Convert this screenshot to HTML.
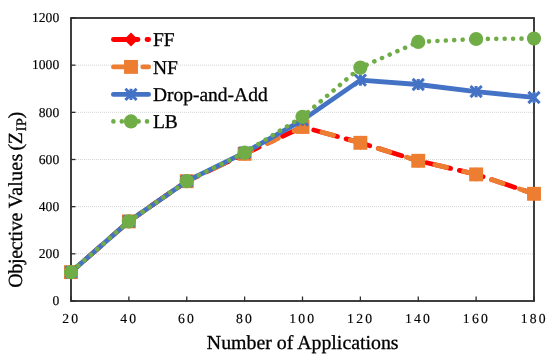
<!DOCTYPE html>
<html><head><meta charset="utf-8"><title>Chart</title>
<style>html,body{margin:0;padding:0;background:#fff}body{width:550px;height:358px;overflow:hidden}</style>
</head><body>
<svg width="550" height="358" viewBox="0 0 550 358" style="display:block" text-rendering="geometricPrecision">
<rect width="550" height="358" fill="#fff"/>
<line x1="76.0" y1="253.83" x2="533.0" y2="253.83" stroke="#d4d4d4" stroke-width="1" stroke-dasharray="1 1"/>
<line x1="76.0" y1="206.67" x2="533.0" y2="206.67" stroke="#d4d4d4" stroke-width="1" stroke-dasharray="1 1"/>
<line x1="76.0" y1="159.50" x2="533.0" y2="159.50" stroke="#d4d4d4" stroke-width="1" stroke-dasharray="1 1"/>
<line x1="76.0" y1="112.33" x2="533.0" y2="112.33" stroke="#d4d4d4" stroke-width="1" stroke-dasharray="1 1"/>
<line x1="76.0" y1="65.17" x2="533.0" y2="65.17" stroke="#d4d4d4" stroke-width="1" stroke-dasharray="1 1"/>
<rect x="71.0" y="18.0" width="463.0" height="283.0" fill="none" stroke="#2b2b2b" stroke-width="1.8"/>
<line x1="71.0" y1="301.00" x2="75.5" y2="301.00" stroke="#2b2b2b" stroke-width="1.3"/>
<line x1="71.0" y1="253.83" x2="75.5" y2="253.83" stroke="#2b2b2b" stroke-width="1.3"/>
<line x1="71.0" y1="206.67" x2="75.5" y2="206.67" stroke="#2b2b2b" stroke-width="1.3"/>
<line x1="71.0" y1="159.50" x2="75.5" y2="159.50" stroke="#2b2b2b" stroke-width="1.3"/>
<line x1="71.0" y1="112.33" x2="75.5" y2="112.33" stroke="#2b2b2b" stroke-width="1.3"/>
<line x1="71.0" y1="65.17" x2="75.5" y2="65.17" stroke="#2b2b2b" stroke-width="1.3"/>
<line x1="71.0" y1="18.00" x2="75.5" y2="18.00" stroke="#2b2b2b" stroke-width="1.3"/>
<line x1="71.00" y1="301.0" x2="71.00" y2="296.5" stroke="#2b2b2b" stroke-width="1.3"/>
<line x1="128.88" y1="301.0" x2="128.88" y2="296.5" stroke="#2b2b2b" stroke-width="1.3"/>
<line x1="186.75" y1="301.0" x2="186.75" y2="296.5" stroke="#2b2b2b" stroke-width="1.3"/>
<line x1="244.62" y1="301.0" x2="244.62" y2="296.5" stroke="#2b2b2b" stroke-width="1.3"/>
<line x1="302.50" y1="301.0" x2="302.50" y2="296.5" stroke="#2b2b2b" stroke-width="1.3"/>
<line x1="360.38" y1="301.0" x2="360.38" y2="296.5" stroke="#2b2b2b" stroke-width="1.3"/>
<line x1="418.25" y1="301.0" x2="418.25" y2="296.5" stroke="#2b2b2b" stroke-width="1.3"/>
<line x1="476.12" y1="301.0" x2="476.12" y2="296.5" stroke="#2b2b2b" stroke-width="1.3"/>
<line x1="534.00" y1="301.0" x2="534.00" y2="296.5" stroke="#2b2b2b" stroke-width="1.3"/>
<path d="M71.00,272.11 L128.88,221.38 L186.75,181.20 L244.62,153.84 L302.50,126.96 L360.38,142.80 L418.25,160.80 L476.12,174.40 L534.00,193.79" fill="none" stroke="#FF0000" stroke-width="4.8" stroke-linecap="round" stroke-linejoin="round" stroke-dasharray="24.60 9.00 24.60 9.00 24.60 9.00 24.60 9.00 7.80 9.00" stroke-dashoffset="49.15"/>
<path d="M64.00,272.11 L71.00,265.11 L78.00,272.11 L71.00,279.11Z" fill="#FF0000"/>
<path d="M121.88,221.38 L128.88,214.38 L135.88,221.38 L128.88,228.38Z" fill="#FF0000"/>
<path d="M179.75,181.20 L186.75,174.20 L193.75,181.20 L186.75,188.20Z" fill="#FF0000"/>
<path d="M237.62,153.84 L244.62,146.84 L251.62,153.84 L244.62,160.84Z" fill="#FF0000"/>
<path d="M295.50,126.96 L302.50,119.96 L309.50,126.96 L302.50,133.96Z" fill="#FF0000"/>
<path d="M353.38,142.80 L360.38,135.80 L367.38,142.80 L360.38,149.80Z" fill="#FF0000"/>
<path d="M411.25,160.80 L418.25,153.80 L425.25,160.80 L418.25,167.80Z" fill="#FF0000"/>
<path d="M469.12,174.40 L476.12,167.40 L483.12,174.40 L476.12,181.40Z" fill="#FF0000"/>
<path d="M527.00,193.79 L534.00,186.79 L541.00,193.79 L534.00,200.79Z" fill="#FF0000"/>
<path d="M71.00,272.11 L128.88,221.38 L186.75,181.20 L244.62,153.84 L302.50,126.96 L360.38,142.80 L418.25,160.80 L476.12,174.40 L534.00,193.79" fill="none" stroke="#ED7D31" stroke-width="4.8" stroke-linecap="round" stroke-linejoin="round" stroke-dasharray="12.00 17.40" stroke-dashoffset="28.05"/>
<rect x="64.05" y="265.16" width="13.9" height="13.9" fill="#ED7D31"/>
<rect x="121.92" y="214.43" width="13.9" height="13.9" fill="#ED7D31"/>
<rect x="179.80" y="174.25" width="13.9" height="13.9" fill="#ED7D31"/>
<rect x="237.68" y="146.89" width="13.9" height="13.9" fill="#ED7D31"/>
<rect x="295.55" y="120.01" width="13.9" height="13.9" fill="#ED7D31"/>
<rect x="353.43" y="135.85" width="13.9" height="13.9" fill="#ED7D31"/>
<rect x="411.30" y="153.85" width="13.9" height="13.9" fill="#ED7D31"/>
<rect x="469.18" y="167.45" width="13.9" height="13.9" fill="#ED7D31"/>
<rect x="527.05" y="186.84" width="13.9" height="13.9" fill="#ED7D31"/>
<path d="M71.00,272.11 L128.88,221.38 L186.75,181.20 L244.62,152.66 L302.50,120.12 L360.38,80.14 L418.25,84.50 L476.12,91.58 L534.00,97.48" fill="none" stroke="#4472C4" stroke-width="4.8" stroke-linecap="round" stroke-linejoin="round"/>
<path d="M65.40,266.51 L76.60,277.71 M65.40,277.71 L76.60,266.51 M71.00,266.51 L71.00,277.71" stroke="#4472C4" stroke-width="3.0" stroke-linecap="butt" fill="none"/>
<path d="M123.28,215.78 L134.47,226.98 M123.28,226.98 L134.47,215.78 M128.88,215.78 L128.88,226.98" stroke="#4472C4" stroke-width="3.0" stroke-linecap="butt" fill="none"/>
<path d="M181.15,175.60 L192.35,186.80 M181.15,186.80 L192.35,175.60 M186.75,175.60 L186.75,186.80" stroke="#4472C4" stroke-width="3.0" stroke-linecap="butt" fill="none"/>
<path d="M239.03,147.06 L250.22,158.26 M239.03,158.26 L250.22,147.06 M244.62,147.06 L244.62,158.26" stroke="#4472C4" stroke-width="3.0" stroke-linecap="butt" fill="none"/>
<path d="M296.90,114.52 L308.10,125.72 M296.90,125.72 L308.10,114.52 M302.50,114.52 L302.50,125.72" stroke="#4472C4" stroke-width="3.0" stroke-linecap="butt" fill="none"/>
<path d="M354.77,74.54 L365.98,85.74 M354.77,85.74 L365.98,74.54 M360.38,74.54 L360.38,85.74" stroke="#4472C4" stroke-width="3.0" stroke-linecap="butt" fill="none"/>
<path d="M412.65,78.91 L423.85,90.10 M412.65,90.10 L423.85,78.91 M418.25,78.91 L418.25,90.10" stroke="#4472C4" stroke-width="3.0" stroke-linecap="butt" fill="none"/>
<path d="M470.52,85.98 L481.73,97.18 M470.52,97.18 L481.73,85.98 M476.12,85.98 L476.12,97.18" stroke="#4472C4" stroke-width="3.0" stroke-linecap="butt" fill="none"/>
<path d="M528.40,91.88 L539.60,103.08 M528.40,103.08 L539.60,91.88 M534.00,91.88 L534.00,103.08" stroke="#4472C4" stroke-width="3.0" stroke-linecap="butt" fill="none"/>
<path d="M71.00,272.11 L128.88,221.38 L186.75,181.20 L244.62,152.66 L302.50,116.81 L360.38,67.62 L418.25,41.94 L476.12,38.99 L534.00,38.52" fill="none" stroke="#70AD47" stroke-width="4.6" stroke-linecap="round" stroke-linejoin="round" stroke-dasharray="0.01 8.40" stroke-dashoffset="-1.2"/>
<circle cx="71.00" cy="272.11" r="7.1" fill="#70AD47"/>
<circle cx="128.88" cy="221.38" r="7.1" fill="#70AD47"/>
<circle cx="186.75" cy="181.20" r="7.1" fill="#70AD47"/>
<circle cx="244.62" cy="152.66" r="7.1" fill="#70AD47"/>
<circle cx="302.50" cy="116.81" r="7.1" fill="#70AD47"/>
<circle cx="360.38" cy="67.62" r="7.1" fill="#70AD47"/>
<circle cx="418.25" cy="41.94" r="7.1" fill="#70AD47"/>
<circle cx="476.12" cy="38.99" r="7.1" fill="#70AD47"/>
<circle cx="534.00" cy="38.52" r="7.1" fill="#70AD47"/>
<text x="59.2" y="305.20" text-anchor="end" font-size="13.6" font-family="'Liberation Serif', 'Times New Roman', serif" stroke="#000" stroke-width="0.15" fill="#000">0</text>
<text x="59.2" y="258.03" text-anchor="end" font-size="13.6" font-family="'Liberation Serif', 'Times New Roman', serif" stroke="#000" stroke-width="0.15" fill="#000">200</text>
<text x="59.2" y="210.87" text-anchor="end" font-size="13.6" font-family="'Liberation Serif', 'Times New Roman', serif" stroke="#000" stroke-width="0.15" fill="#000">400</text>
<text x="59.2" y="163.70" text-anchor="end" font-size="13.6" font-family="'Liberation Serif', 'Times New Roman', serif" stroke="#000" stroke-width="0.15" fill="#000">600</text>
<text x="59.2" y="116.53" text-anchor="end" font-size="13.6" font-family="'Liberation Serif', 'Times New Roman', serif" stroke="#000" stroke-width="0.15" fill="#000">800</text>
<text x="59.2" y="69.37" text-anchor="end" font-size="13.6" font-family="'Liberation Serif', 'Times New Roman', serif" stroke="#000" stroke-width="0.15" fill="#000">1000</text>
<text x="59.2" y="22.20" text-anchor="end" font-size="13.6" font-family="'Liberation Serif', 'Times New Roman', serif" stroke="#000" stroke-width="0.15" fill="#000">1200</text>
<text x="71.30" y="323.4" text-anchor="middle" font-size="13.7" letter-spacing="2.2" font-family="'Liberation Serif', 'Times New Roman', serif" stroke="#000" stroke-width="0.15" fill="#000">20</text>
<text x="129.18" y="323.4" text-anchor="middle" font-size="13.7" letter-spacing="2.2" font-family="'Liberation Serif', 'Times New Roman', serif" stroke="#000" stroke-width="0.15" fill="#000">40</text>
<text x="187.05" y="323.4" text-anchor="middle" font-size="13.7" letter-spacing="2.2" font-family="'Liberation Serif', 'Times New Roman', serif" stroke="#000" stroke-width="0.15" fill="#000">60</text>
<text x="244.93" y="323.4" text-anchor="middle" font-size="13.7" letter-spacing="2.2" font-family="'Liberation Serif', 'Times New Roman', serif" stroke="#000" stroke-width="0.15" fill="#000">80</text>
<text x="302.80" y="323.4" text-anchor="middle" font-size="13.7" letter-spacing="2.2" font-family="'Liberation Serif', 'Times New Roman', serif" stroke="#000" stroke-width="0.15" fill="#000">100</text>
<text x="360.68" y="323.4" text-anchor="middle" font-size="13.7" letter-spacing="2.2" font-family="'Liberation Serif', 'Times New Roman', serif" stroke="#000" stroke-width="0.15" fill="#000">120</text>
<text x="418.55" y="323.4" text-anchor="middle" font-size="13.7" letter-spacing="2.2" font-family="'Liberation Serif', 'Times New Roman', serif" stroke="#000" stroke-width="0.15" fill="#000">140</text>
<text x="476.43" y="323.4" text-anchor="middle" font-size="13.7" letter-spacing="2.2" font-family="'Liberation Serif', 'Times New Roman', serif" stroke="#000" stroke-width="0.15" fill="#000">160</text>
<text x="534.30" y="323.4" text-anchor="middle" font-size="13.7" letter-spacing="2.2" font-family="'Liberation Serif', 'Times New Roman', serif" stroke="#000" stroke-width="0.15" fill="#000">180</text>
<text x="302.7" y="348.6" text-anchor="middle" font-size="19.85" font-family="'Liberation Serif', 'Times New Roman', serif" stroke="#000" stroke-width="0.3" fill="#000">Number of Applications</text>
<g transform="translate(22.3,0) rotate(-90)" font-family="'Liberation Serif', 'Times New Roman', serif" stroke="#000" stroke-width="0.3" fill="#000">
<text x="-287.80" y="0" font-size="20" textLength="75.3" lengthAdjust="spacing" >Objective</text>
<text x="-208.20" y="0" font-size="20" textLength="54.4" lengthAdjust="spacing" >Values</text>
<text x="-150.40" y="0" font-size="20" >(</text>
<text x="-144.20" y="0" font-size="20" >Z</text>
<text x="-131.20" y="4" font-size="14.5" >IP</text>
<text x="-118.60" y="0" font-size="20" >)</text>
</g>
<line x1="113.4" y1="39.5" x2="148.6" y2="39.5" stroke="#FF0000" stroke-width="4.8" stroke-linecap="round" stroke-dasharray="24.60 9.00 24.60 9.00 24.60 9.00 24.60 9.00 7.80 9.00"/>
<path d="M124.00,39.50 L131.00,32.50 L138.00,39.50 L131.00,46.50Z" fill="#FF0000"/>
<line x1="113.4" y1="66.9" x2="148.6" y2="66.9" stroke="#ED7D31" stroke-width="4.8" stroke-linecap="round" stroke-dasharray="12.00 17.40"/>
<rect x="124.05" y="59.95" width="13.9" height="13.9" fill="#ED7D31"/>
<line x1="113.4" y1="94.4" x2="148.6" y2="94.4" stroke="#4472C4" stroke-width="4.8" stroke-linecap="round"/>
<path d="M125.40,88.80 L136.60,100.00 M125.40,100.00 L136.60,88.80 M131.00,88.80 L131.00,100.00" stroke="#4472C4" stroke-width="3.0" stroke-linecap="butt" fill="none"/>
<line x1="113.4" y1="121.4" x2="148.6" y2="121.4" stroke="#70AD47" stroke-width="4.6" stroke-linecap="round" stroke-dasharray="0.01 8.40"/>
<circle cx="131.0" cy="121.4" r="7.1" fill="#70AD47"/>
<text x="152.9" y="46.40" font-size="19.5" font-family="'Liberation Serif', 'Times New Roman', serif" stroke="#000" stroke-width="0.3" fill="#000">FF</text>
<text x="152.9" y="73.80" font-size="19.5" font-family="'Liberation Serif', 'Times New Roman', serif" stroke="#000" stroke-width="0.3" fill="#000">NF</text>
<text x="152.9" y="101.30" font-size="19.5" font-family="'Liberation Serif', 'Times New Roman', serif" stroke="#000" stroke-width="0.3" fill="#000">Drop-and-Add</text>
<text x="152.9" y="128.30" font-size="19.5" font-family="'Liberation Serif', 'Times New Roman', serif" stroke="#000" stroke-width="0.3" fill="#000">LB</text>
</svg>
</body></html>
